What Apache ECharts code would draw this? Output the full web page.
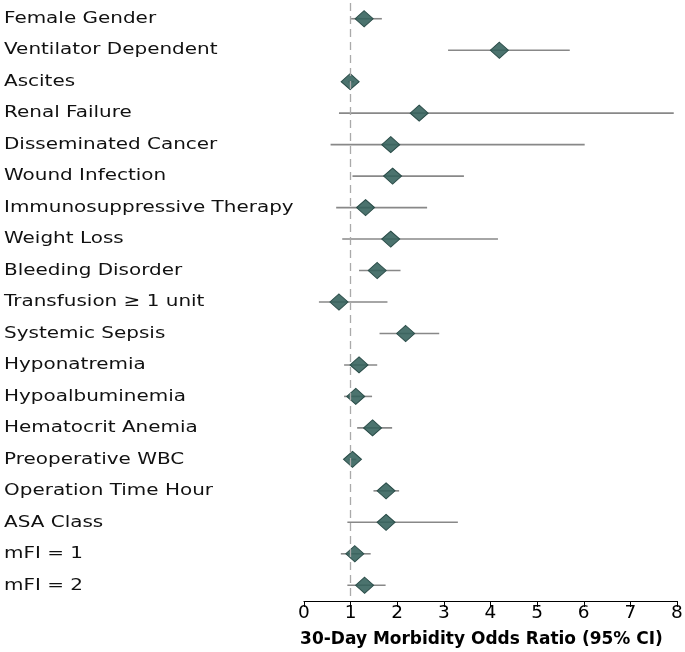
<!DOCTYPE html>
<html><head><meta charset="utf-8">
<script src="https://cdn.jsdelivr.net/npm/echarts@6/dist/echarts.min.js"></script>
<style>html,body{margin:0;padding:0;background:#fff}#c{width:685px;height:652px}</style>
</head><body><div id="c"></div>
<script>
const categories = ["Female Gender","Ventilator Dependent","Ascites","Renal Failure","Disseminated Cancer","Wound Infection","Immunosuppressive Therapy","Weight Loss","Bleeding Disorder","Transfusion \u2265 1 unit","Systemic Sepsis","Hyponatremia","Hypoalbuminemia","Hematocrit Anemia","Preoperative WBC","Operation Time Hour","ASA Class","mFI = 1","mFI = 2"];
const oddsRatio = [1.29,4.19,0.99,2.47,1.86,1.90,1.32,1.86,1.57,0.75,2.18,1.18,1.11,1.47,1.04,1.76,1.76,1.09,1.30];
const ciLow  = [1.01,3.09,0.95,0.75,0.57,1.04,0.69,0.82,1.18,0.32,1.62,0.86,0.86,1.14,0.96,1.49,0.93,0.79,0.93];
const ciHigh = [1.67,5.70,1.07,7.93,6.02,3.43,2.64,4.16,2.07,1.79,2.90,1.57,1.46,1.89,1.12,2.04,3.30,1.43,1.75];
const xTicks = [0,1,2,3,4,5,6,7,8];

const chart = echarts.init(document.getElementById('c'), null, {renderer:'canvas'});
chart.setOption({
  animation:false,
  grid:{left:304, right:8, top:3, bottom:51, containLabel:false, outerBoundsMode:'none'},
  xAxis:{type:'value', min:xTicks[0], max:xTicks[xTicks.length-1], interval:1,
    name:'30-Day Morbidity Odds Ratio (95% CI)', nameLocation:'middle', nameGap:30,
    nameTextStyle:{fontFamily:'DejaVu Sans', fontWeight:'bold', fontSize:17, color:'#000', padding:[0,18,0,0]},
    axisLine:{show:true, lineStyle:{color:'#000', width:1.2}},
    axisTick:{show:true, length:6, lineStyle:{color:'#000'}},
    axisLabel:{fontFamily:'DejaVu Sans', fontSize:18.5, color:'#000', margin:3},
    splitLine:{show:false}},
  yAxis:{type:'category', data:categories, inverse:true,
    axisLine:{show:false}, axisTick:{show:false}, splitLine:{show:false},
    axisLabel:{show:false}},
  series:[
    {type:'custom', z:1, silent:true, clip:false,
     data: categories.map((c,i)=>[0, i]),
     encode:{x:0, y:1},
     renderItem:function(params, api){
       const p = api.coord([0, api.value(1)]);
       return {type:'text', x:4, y:p[1], scaleX:1.21, originX:0, originY:0,
               style:{text:categories[params.dataIndex], x:0, y:0, fill:'#111',
                      font:'16.5px "DejaVu Sans"', verticalAlign:'middle', align:'left'}};
     }},
    {type:'custom', z:2,
     data: categories.map((c,i)=>[ciLow[i], ciHigh[i], i]),
     encode:{x:[0,1], y:2},
     renderItem:function(params, api){
       const a = api.coord([api.value(0), api.value(2)]);
       const b = api.coord([api.value(1), api.value(2)]);
       return {type:'line', shape:{x1:a[0], y1:a[1], x2:b[0], y2:b[1]},
               style:{stroke:'#888', lineWidth:1.6}};
     }},
    {type:'scatter', z:3, symbol:'diamond', symbolSize:[18,16],
     data: oddsRatio.map((v,i)=>[v,i]),
     itemStyle:{color:'rgba(50,96,90,0.88)', borderColor:'#2b4d49', borderWidth:1, opacity:1},
     markLine:{silent:true, symbol:'none', label:{show:false},
       lineStyle:{color:'#aaa', type:[8,5], width:1.3},
       data:[{xAxis:1}]}}
  ]
});
</script></body></html>
